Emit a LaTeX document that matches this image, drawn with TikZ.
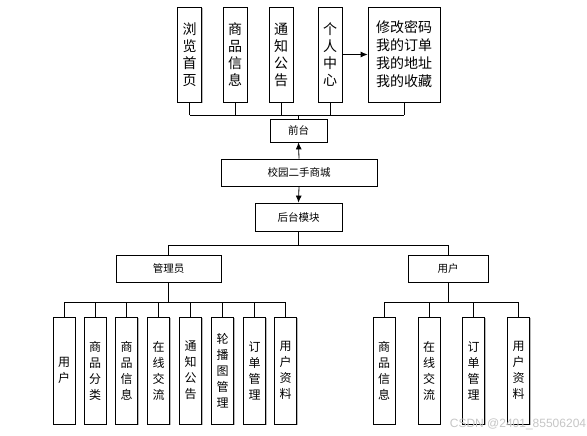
\documentclass[tikz,border=0pt]{standalone}
\usepackage{fontspec}
\setmainfont{Noto Sans CJK SC}
\newfontfamily\wmfont{Liberation Sans}
\usetikzlibrary{arrows.meta,shadows}
\begin{document}
\begin{tikzpicture}[x=1pt,y=-1pt,
  box/.style={draw=black, line width=0.8pt, fill=white, inner sep=0pt, align=center,
    drop shadow={shadow xshift=1.3pt, shadow yshift=-1.3pt, fill=gray!55, opacity=1}},
  topv/.style={box, minimum width=24pt, minimum height=95pt, font=\fontsize{14}{17}\selectfont},
  bigbox/.style={box, minimum width=72pt, minimum height=95pt, font=\fontsize{14}{18}\selectfont},
  midbox/.style={box, minimum height=27pt, font=\fontsize{10.5}{12}\selectfont},
  leaf/.style={box, minimum width=22pt, minimum height=107pt, font=\fontsize{12}{16}\selectfont},
  conn/.style={line width=0.8pt, draw=black},
  arr/.style={conn, -{Latex[length=7pt,width=6pt]}}
]
\useasboundingbox (0,0) rectangle (587,436);
\fill[white] (0,0) rectangle (587,436);

% top row
\node[topv] (b1) at (189.5,54.5) {浏\\览\\首\\页};
\node[topv] (b2) at (235,54.5) {商\\品\\信\\息};
\node[topv] (b3) at (281,54.5) {通\\知\\公\\告};
\node[topv] (b4) at (330,54.5) {个\\人\\中\\心};
\node[bigbox] (big) at (404,54.5) {修改密码\\我的订单\\我的地址\\我的收藏};

% middle
\node[midbox, minimum width=57pt, minimum height=23pt] (qt) at (298.5,130.5) {前台};
\node[midbox, minimum width=156pt] (xy) at (299,172.5) {校园二手商城};
\node[midbox, minimum width=87pt, minimum height=28pt] (ht) at (298.5,217) {后台模块};

\node[midbox, minimum width=105pt] (gl) at (168.5,268.5) {管理员};
\node[midbox, minimum width=80pt] (yh) at (448,268.5) {用户};

% admin leaves
\node[leaf] (a1) at (64,370.5) {用\\户};
\node[leaf] (a2) at (95,370.5) {商\\品\\分\\类};
\node[leaf] (a3) at (126.5,370.5) {商\\品\\信\\息};
\node[leaf] (a4) at (158.5,370.5) {在\\线\\交\\流};
\node[leaf] (a5) at (190.5,370.5) {通\\知\\公\\告};
\node[leaf] (a6) at (222.5,370.5) {轮\\播\\图\\管\\理};
\node[leaf] (a7) at (254.5,370.5) {订\\单\\管\\理};
\node[leaf] (a8) at (285.5,370.5) {用\\户\\资\\料};

% user leaves
\node[leaf] (u1) at (384,370.5) {商\\品\\信\\息};
\node[leaf] (u2) at (429,370.5) {在\\线\\交\\流};
\node[leaf] (u3) at (473.5,370.5) {订\\单\\管\\理};
\node[leaf] (u4) at (518.5,370.5) {用\\户\\资\\料};

% bus coordinates
\coordinate (busT) at (0,115);
\coordinate (hb) at (0,245);
\coordinate (ab) at (0,302);

% top connectors
\foreach \n in {b1,b2,b3,b4,big} \draw[conn] (\n.south) -- (\n.south |- busT);
\draw[conn] (b1.south |- busT) -- (big.south |- busT);
\draw[conn] (qt.north |- busT) -- (qt.north);
\draw[arr] (b4.east) -- (big.west);

\draw[arr] (xy.north) -- (qt.south);
\draw[arr] (xy.south) -- (ht.north);

\draw[conn] (ht.south) -- (ht.south |- hb);
\draw[conn] (gl.north |- hb) -- (yh.north |- hb);
\draw[conn] (gl.north |- hb) -- (gl.north);
\draw[conn] (yh.north |- hb) -- (yh.north);

\draw[conn] (gl.south) -- (gl.south |- ab);
\draw[conn] (a1.north |- ab) -- (a8.north |- ab);
\foreach \n in {a1,a2,a3,a4,a5,a6,a7,a8} \draw[conn] (\n.north |- ab) -- (\n.north);

\draw[conn] (yh.south) -- (yh.south |- ab);
\draw[conn] (u1.north |- ab) -- (u4.north |- ab);
\foreach \n in {u1,u2,u3,u4} \draw[conn] (\n.north |- ab) -- (\n.north);

% watermark
\node[text=gray!45, font=\wmfont\fontsize{12}{14}\selectfont, inner sep=0pt] (wm) at (518,424) {CSDN @2401\_85506204};
\end{tikzpicture}
\end{document}
